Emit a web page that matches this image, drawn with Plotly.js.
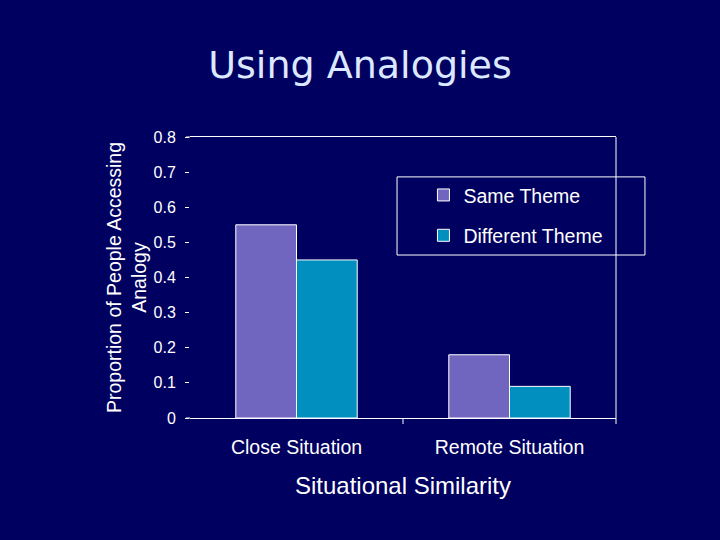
<!DOCTYPE html>
<html>
<head>
<meta charset="utf-8">
<script src="https://cdn.plot.ly/plotly-3.0.1.min.js"></script>
<style>html,body{margin:0;padding:0;background:#000060;}</style>
</head>
<body>
<div id="chart" style="width:720px;height:540px;"></div>
<script>
const categories = ["Close Situation", "Remote Situation"];
const sameTheme = [0.55, 0.18];
const differentTheme = [0.45, 0.09];
const seriesNames = ["Same Theme", "Different Theme"];
const yTicks = [0, 0.1, 0.2, 0.3, 0.4, 0.5, 0.6, 0.7, 0.8];
const yTickText = ["0", "0.1", "0.2", "0.3", "0.4", "0.5", "0.6", "0.7", "0.8"];

const fontFam = "Liberation Sans, Arial, sans-serif";
const traces = [
  {type: "bar", name: seriesNames[0], x: categories, y: sameTheme, legendgroup: "a",
   marker: {color: "#7166bf", line: {color: "#ffffff", width: 1}}},
  {type: "bar", name: seriesNames[1], x: categories, y: differentTheme, legendgroup: "b",
   marker: {color: "#008fbf", line: {color: "#ffffff", width: 1}}}
];

const tickDrop = -6 / 281;
const layout = {
  width: 720, height: 540,
  paper_bgcolor: "#000060", plot_bgcolor: "rgba(0,0,0,0)",
  margin: {l: 190, r: 104, t: 137, b: 122},
  font: {family: fontFam, color: "#ffffff", size: 16},
  title: {text: "Using Analogies", font: {family: "DejaVu Sans, Verdana, sans-serif", size: 38, color: "#dce8ff"},
          x: 0.5, xref: "container", xanchor: "center", y: 0.88, yref: "container", yanchor: "middle"},
  barmode: "group", bargap: 0.43, bargroupgap: 0,
  showlegend: true,
  legend: {x: 0.548, y: 0.862, xanchor: "left", yanchor: "top", bgcolor: "rgba(0,0,0,0)",
           borderwidth: 0, font: {family: fontFam, size: 19.5, color: "#ffffff"}, tracegroupgap: 12,
           traceorder: "grouped"},
  xaxis: {type: "category", showline: true, linecolor: "#ffffff", linewidth: 1, mirror: true,
          ticks: "", ticklabelstandoff: 12,
          tickfont: {family: fontFam, size: 19.5, color: "#ffffff"}, showgrid: false, zeroline: false,
          title: {text: "Situational Similarity", font: {family: fontFam, size: 24, color: "#ffffff"}, standoff: 19},
          automargin: false},
  yaxis: {range: [0, 0.8], tickvals: yTicks, ticktext: yTickText, showline: false, showgrid: false, zeroline: false,
          ticks: "outside", ticklen: 4, tickcolor: "#ffffff", ticklabelstandoff: 6,
          tickfont: {family: fontFam, size: 16, color: "#ffffff"},
          title: {text: "Proportion of People Accessing<br>Analogy", font: {family: fontFam, size: 19.5, color: "#ffffff"}, standoff: 1},
          automargin: false},
  shapes: [
    {type: "line", xref: "x domain", yref: "y domain", x0: 1, x1: 1, y0: tickDrop, y1: 1, line: {color: "#ffffff", width: 1}},
    {type: "line", xref: "x domain", yref: "y domain", x0: 0.5, x1: 0.5, y0: tickDrop, y1: 0, line: {color: "#ffffff", width: 1}},
    {type: "line", xref: "x domain", yref: "y domain", x0: -0.0094, x1: 0, y0: 1, y1: 1, line: {color: "#ffffff", width: 1}},
    {type: "line", xref: "x domain", yref: "y domain", x0: -0.0094, x1: 0, y0: 0, y1: 0, line: {color: "#ffffff", width: 1}},
    {type: "rect", xref: "paper", yref: "paper", x0: 0.486, x1: 1.068, y0: 0.58, y1: 0.858, line: {color: "#ffffff", width: 1}}
  ]
};

Plotly.newPlot("chart", traces, layout, {displayModeBar: false, staticPlot: true});
</script>
</body>
</html>
